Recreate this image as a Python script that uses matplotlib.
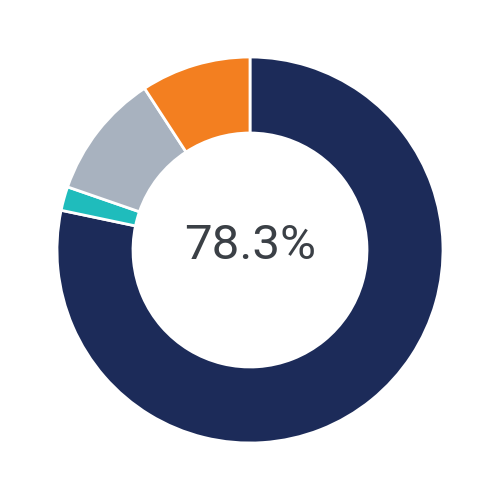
import matplotlib.pyplot as plt

labels = ['Navy', 'Teal', 'Gray', 'Orange']
values = [78.3, 2.0, 10.5, 9.2]
colors = ['#1c2b59', '#1fbcbc', '#a8b2bf', '#f37f20']
center_text = '78.3%'

fig = plt.figure(figsize=(5, 5), dpi=100)
ax = fig.add_axes([0, 0, 1, 1])

ax.pie(values, colors=colors, startangle=90, counterclock=False,
       radius=193, wedgeprops=dict(width=76, edgecolor='white', linewidth=2))
ax.text(0, 4, center_text, ha='center', va='center', fontsize=35.5,
        color='#3b4046', family='Roboto')

ax.set_xlim(-250, 250)
ax.set_ylim(-250, 250)
ax.set_aspect('equal')
ax.axis('off')

fig.savefig('out.png', dpi=100)
